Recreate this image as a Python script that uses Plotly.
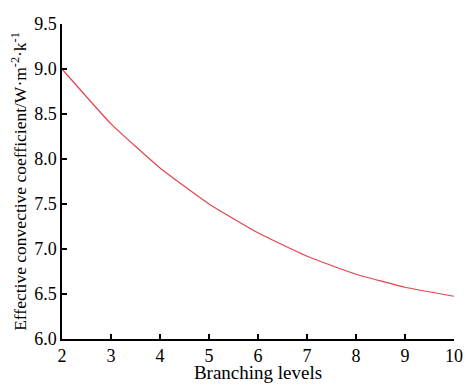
import plotly.graph_objects as go

levels = [2, 3, 4, 5, 6, 7, 8, 9, 10]
coef = [9.0, 8.39, 7.9, 7.5, 7.18, 6.92, 6.72, 6.575, 6.475]
y_ticks = [6.0, 6.5, 7.0, 7.5, 8.0, 8.5, 9.0, 9.5]
y_tick_labels = ["6.0", "6.5", "7.0", "7.5", "8.0", "8.5", "9.0", "9.5"]
x_tick_labels = ["2", "3", "4", "5", "6", "7", "8", "9", "10"]

fig = go.Figure()
fig.add_trace(go.Scatter(x=levels, y=coef, mode="lines",
                         line=dict(color="#e6424c", width=1.2, shape="spline", smoothing=0.4)))

fig.update_layout(
    width=458, height=375,
    margin=dict(l=54, r=3, t=16, b=44),
    plot_bgcolor="white", paper_bgcolor="white",
    showlegend=False,
    font=dict(family="Times New Roman", color="black", size=18),
)
fig.update_xaxes(
    range=[2, 10], tickvals=levels, ticktext=x_tick_labels, ticks="inside", ticklen=5, tickwidth=1.5, tickcolor="black",
    showline=True, linecolor="black", linewidth=1.5, showgrid=False, zeroline=False,
    ticklabeloverflow="allow",
    title=dict(text="Branching levels", font=dict(size=19), standoff=0),
)
fig.update_yaxes(
    range=[6.0, 9.5], tickvals=y_ticks, ticktext=y_tick_labels, ticks="inside", ticklen=5, tickwidth=1.5, tickcolor="black",
    showline=True, linecolor="black", linewidth=1.5, showgrid=False, zeroline=False,
    title=dict(text="Effective convective coefficient/W·m<sup>-2</sup>·k<sup>-1</sup>", font=dict(size=17.5), standoff=5),
)
fig.write_html("out.html", config={"displayModeBar": False})
